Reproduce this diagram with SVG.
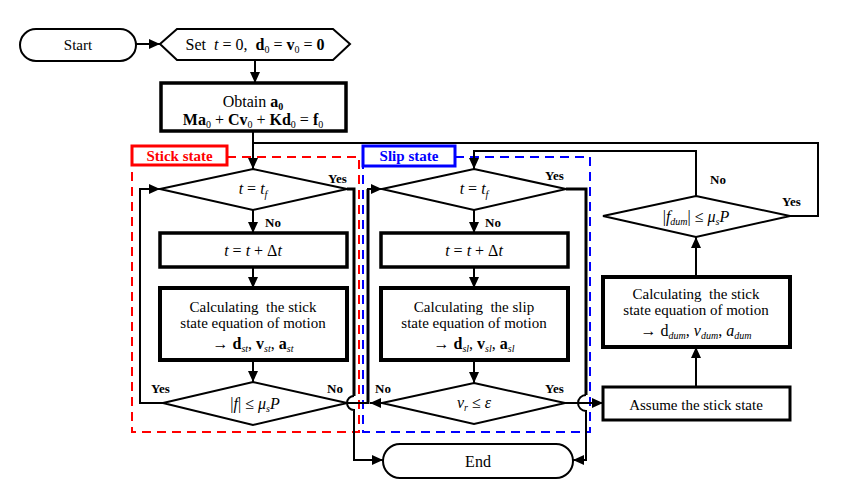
<svg xmlns="http://www.w3.org/2000/svg" width="850" height="481" viewBox="0 0 850 481" font-family="Times New Roman, Liberation Serif, Tinos, Noto Serif, DejaVu Serif, serif">
<defs>
<marker id="ah" markerUnits="userSpaceOnUse" markerWidth="11" markerHeight="10" refX="11" refY="5" orient="auto">
<path d="M0,0 L11,5 L0,10 z" fill="#000"/>
</marker>
<style>
text{fill:#000;}
.t{font-size:15px;text-anchor:middle;}
.m{font-size:16px;text-anchor:middle;}
.lb{font-size:13px;font-weight:bold;}
.i{font-style:italic;}
.b{font-weight:bold;}
.sub{font-size:10px;font-style:italic;}
.sr{font-size:10px;}
.shape{fill:#fff;stroke:#000;stroke-width:2;}
.box{fill:#fff;stroke:#000;stroke-width:3.5;}
.con{fill:none;stroke:#000;stroke-width:2;}
.thk{fill:none;stroke:#000;stroke-width:3;}
.arr{marker-end:url(#ah);}
.dash{fill:none;stroke-width:2;stroke-dasharray:9 6;}
</style>
</defs>
<rect width="850" height="481" fill="#fff"/>

<g id="regions">
<path class="dash" d="M227,157 H359 V432 H132 V166" stroke="#ff0000"/>
<path class="dash" d="M455,157 H590 V432 H363 V167" stroke="#0000ff"/>
</g>

<g id="connectors">
<path class="con arr" d="M136,44 H160"/>
<path class="con arr" d="M255,60 V83"/>
<path class="con arr" d="M253,131 V169"/>
<path class="con" d="M790,216 H818 V143 H253"/>
<path class="con arr" d="M696,196 V151 H474 V169"/>
<path class="con arr" d="M253,210 V233"/>
<path class="con arr" d="M253,267 V288"/>
<path class="con arr" d="M253,360 V382"/>
<path class="con arr" d="M474,210 V233"/>
<path class="con arr" d="M474,267 V288"/>
<path class="con arr" d="M474,360 V383"/>
<path class="con arr" d="M163,403 H140 V189 H160"/>
<path class="con" d="M347,403 H368"/>
<path class="thk" d="M368,404 V189"/>
<path class="con arr" d="M367,189 H382"/>
<path class="con arr" d="M382,403 H370"/>
<path class="thk" d="M347,189 H354 V396"/>
<path class="con arr" d="M354,396 A7,7 0 0 0 354,410 V460 H383"/>
<path class="thk" d="M566,189 H586 V395"/>
<path class="con arr" d="M586,395 A8,8 0 0 0 586,411 V460 H573"/>
<path class="con arr" d="M565,403 H603"/>
<path class="con arr" d="M696,387 V347"/>
<path class="con arr" d="M696,277 V237"/>
</g>

<g id="start">
<rect class="shape" x="20" y="29" width="116" height="32" rx="16"/>
<text class="t" x="78" y="50">Start</text>
</g>

<g id="set">
<polygon class="shape" points="160,44 177,29 333,29 350,44 333,60 177,60"/>
<text class="m" x="255" y="50" xml:space="preserve">Set  <tspan class="i">t</tspan> = 0,  <tspan class="b">d</tspan><tspan class="sr" dy="3">0</tspan><tspan dy="-3"> = </tspan><tspan class="b">v</tspan><tspan class="sr" dy="3">0</tspan><tspan dy="-3"> = </tspan><tspan class="b">0</tspan></text>
</g>

<g id="obtain">
<rect class="box" x="161" y="83" width="185" height="48"/>
<text class="m" x="253" y="107">Obtain <tspan class="b">a</tspan><tspan class="sr b" dy="3">0</tspan></text>
<text class="m" x="253" y="125"><tspan class="b">Ma</tspan><tspan class="sr" dy="3">0</tspan><tspan dy="-3"> + </tspan><tspan class="b">Cv</tspan><tspan class="sr" dy="3">0</tspan><tspan dy="-3"> + </tspan><tspan class="b">Kd</tspan><tspan class="sr" dy="3">0</tspan><tspan dy="-3"> = </tspan><tspan class="b">f</tspan><tspan class="sr" dy="3">0</tspan></text>
</g>

<g id="stick-label">
<rect x="132" y="146" width="95" height="19" fill="#fff" stroke="#ff0000" stroke-width="3"/>
<text x="179.5" y="161" style="font-size:15px;font-weight:bold;fill:#ff0000;text-anchor:middle">Stick state</text>
</g>

<g id="slip-label">
<rect x="363" y="146" width="92" height="20" fill="#fff" stroke="#0000ff" stroke-width="3"/>
<text x="409" y="161" style="font-size:15px;font-weight:bold;fill:#0000ff;text-anchor:middle">Slip state</text>
</g>

<g id="stick-tf">
<polygon class="shape" points="253,169 347,189 253,210 160,189"/>
<text class="m" x="253" y="194"><tspan class="i">t</tspan> = <tspan class="i">t</tspan><tspan class="sub" dy="4">f</tspan></text>
<text class="lb" x="328" y="183">Yes</text>
<text class="lb" x="265" y="227">No</text>
</g>

<g id="stick-dt">
<rect class="box" x="160" y="233" width="187" height="34"/>
<text class="m" x="253" y="256"><tspan class="i">t</tspan> = <tspan class="i">t</tspan> + Δ<tspan class="i">t</tspan></text>
</g>

<g id="stick-calc">
<rect class="box" x="160" y="288" width="187" height="72" style="stroke-width:4"/>
<text class="t" x="253" y="312" xml:space="preserve">Calculating  the stick</text>
<text class="t" x="253" y="328">state equation of motion</text>
<text class="m" x="253" y="349">→ <tspan class="b">d</tspan><tspan class="sub" dy="3">st</tspan><tspan dy="-3">, </tspan><tspan class="b">v</tspan><tspan class="sub" dy="3">st</tspan><tspan dy="-3">, </tspan><tspan class="b">a</tspan><tspan class="sub" dy="3">st</tspan></text>
</g>

<g id="stick-f">
<polygon class="shape" points="253,382 347,403 253,425 163,403"/>
<text class="m" x="255" y="409">|<tspan class="i">f</tspan>| ≤ <tspan class="i">μ</tspan><tspan class="sub" dy="3">s</tspan><tspan class="i" dy="-3">P</tspan></text>
<text class="lb" x="151" y="393">Yes</text>
<text class="lb" x="327" y="393">No</text>
</g>

<g id="slip-tf">
<polygon class="shape" points="474,169 566,189 474,210 382,189"/>
<text class="m" x="474" y="194"><tspan class="i">t</tspan> = <tspan class="i">t</tspan><tspan class="sub" dy="4">f</tspan></text>
<text class="lb" x="545" y="180">Yes</text>
<text class="lb" x="485" y="227">No</text>
</g>

<g id="slip-dt">
<rect class="box" x="381" y="233" width="187" height="34"/>
<text class="m" x="474" y="256"><tspan class="i">t</tspan> = <tspan class="i">t</tspan> + Δ<tspan class="i">t</tspan></text>
</g>

<g id="slip-calc">
<rect class="box" x="381" y="288" width="187" height="72" style="stroke-width:4"/>
<text class="t" x="474" y="312" xml:space="preserve">Calculating  the slip</text>
<text class="t" x="474" y="328">state equation of motion</text>
<text class="m" x="474" y="349">→ <tspan class="b">d</tspan><tspan class="sub" dy="3">sl</tspan><tspan dy="-3">, </tspan><tspan class="b">v</tspan><tspan class="sub" dy="3">sl</tspan><tspan dy="-3">, </tspan><tspan class="b">a</tspan><tspan class="sub" dy="3">sl</tspan></text>
</g>

<g id="slip-vr">
<polygon class="shape" points="474,383 565,403 474,424 382,403"/>
<text class="m" x="474" y="408"><tspan class="i">v</tspan><tspan class="sub" dy="3">r</tspan><tspan dy="-3"> ≤ </tspan><tspan class="i">ε</tspan></text>
<text class="lb" x="375" y="393">No</text>
<text class="lb" x="545" y="393">Yes</text>
</g>

<g id="assume">
<rect class="box" x="603" y="387" width="187" height="33" style="stroke-width:3"/>
<text class="t" x="696" y="410">Assume the stick state</text>
</g>

<g id="dum-calc">
<rect class="box" x="603" y="277" width="187" height="70" style="stroke-width:4"/>
<text class="t" x="696" y="299" xml:space="preserve">Calculating  the stick</text>
<text class="t" x="696" y="315">state equation of motion</text>
<text class="m" x="696" y="336">→ d<tspan class="sub" dy="3">dum</tspan><tspan dy="-3">, </tspan><tspan class="i">v</tspan><tspan class="sub" dy="3">dum</tspan><tspan dy="-3">, </tspan><tspan class="i">a</tspan><tspan class="sub" dy="3">dum</tspan></text>
</g>

<g id="dum-f">
<polygon class="shape" points="696,196 790,216 696,237 603,216"/>
<text class="m" x="696" y="222">|<tspan class="i">f</tspan><tspan class="sub" dy="3">dum</tspan><tspan dy="-3">| ≤ </tspan><tspan class="i">μ</tspan><tspan class="sub" dy="3">s</tspan><tspan class="i" dy="-3">P</tspan></text>
<text class="lb" x="710" y="184">No</text>
<text class="lb" x="782" y="206">Yes</text>
</g>

<g id="end">
<rect class="shape" x="383" y="444" width="190" height="34" rx="17"/>
<text class="m" x="478" y="467">End</text>
</g>
</svg>
